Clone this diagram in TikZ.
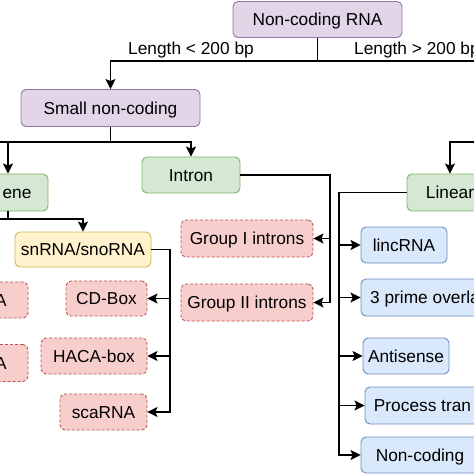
\documentclass[tikz,border=0pt]{standalone}
\usepackage{fontspec}
\setmainfont{Liberation Sans}
\usetikzlibrary{arrows.meta}
\definecolor{fillpurple}{HTML}{E1D5E7}
\definecolor{drawpurple}{HTML}{9673A6}
\definecolor{fillgreen}{HTML}{D5E8D4}
\definecolor{drawgreen}{HTML}{82B366}
\definecolor{fillyellow}{HTML}{FFF2CC}
\definecolor{drawyellow}{HTML}{D6B656}
\definecolor{fillred}{HTML}{F8CECC}
\definecolor{drawred}{HTML}{B85450}
\definecolor{fillblue}{HTML}{DAE8FC}
\definecolor{drawblue}{HTML}{6C8EBF}
\tikzset{
    rnabox/.style={draw, rounded corners=5pt, line width=0.9pt, inner sep=0pt,
        minimum height=36pt, text height=12.4pt, text depth=0pt,
        font=\fontsize{17.3}{20}\selectfont},
    purplebox/.style={rnabox, fill=fillpurple, draw=drawpurple},
    greenbox/.style={rnabox, fill=fillgreen, draw=drawgreen},
    yellowbox/.style={rnabox, fill=fillyellow, draw=drawyellow},
    redbox/.style={rnabox, fill=fillred, draw=drawred, dash pattern=on 3pt off 2pt},
    bluebox/.style={rnabox, fill=fillblue, draw=drawblue},
    lengthlabel/.style={inner sep=0pt, text height=12.4pt, text depth=0pt,
        font=\fontsize{17.3}{20}\selectfont},
    link/.style={black, line width=1.6pt},
    arrowlink/.style={link, -{Stealth[length=10pt, width=10pt, inset=2pt]}}
}

\begin{document}
\begin{tikzpicture}[x=1pt, y=-1pt]
    \useasboundingbox (0,0) rectangle (474,474);
    \clip (0,0) rectangle (474,474);
    % top level
    \node [purplebox, minimum width=169pt] (ncrna) at (317.5, 19.5) {Non-coding RNA};
    \node [lengthlabel] (shortlen) at (191, 48) {Length < 200 bp};
    \node [lengthlabel, anchor=west] (longlen) at (354, 48) {Length > 200 bp};
    \node [purplebox, minimum width=179pt, minimum height=37pt] (small) at (110.5, 108) {Small non-coding};
    % small non-coding branch
    \node [greenbox, minimum width=62pt, minimum height=37pt] (gene) at (17, 192.5) {ene};
    \node [greenbox, minimum width=98pt] (intron) at (191, 175) {Intron};
    \node [yellowbox, minimum width=136pt, minimum height=35pt] (sno) at (83, 249.5) {snRNA/snoRNA};
    \node [redbox, minimum width=54pt] (leftone) at (1, 300) {A};
    \node [redbox, minimum width=54pt, minimum height=37pt] (lefttwo) at (1, 363) {A};
    \node [redbox, minimum width=81pt, minimum height=35pt] (cdbox) at (106.5, 298.5) {CD-Box};
    \node [redbox, minimum width=106pt] (haca) at (94, 356) {HACA-box};
    \node [redbox, minimum width=87pt] (scarna) at (103.5, 412) {scaRNA};
    \node [redbox, minimum width=132pt, minimum height=37pt] (groupone) at (247, 238.5) {Group I introns};
    \node [redbox, minimum width=132pt, minimum height=37pt] (grouptwo) at (247, 302.5) {Group II introns};
    % long non-coding branch
    \node [greenbox, minimum width=86pt, minimum height=37pt] (linear) at (450, 192.5) {Linear};
    \node [bluebox, minimum width=86pt] (lincrna) at (404, 245) {lincRNA};
    \node [bluebox, minimum width=128pt, minimum height=37pt] (prime) at (425, 297.5) {3 prime overla};
    \node [bluebox, minimum width=86pt] (antisense) at (406, 356) {Antisense};
    \node [bluebox, minimum width=115pt, minimum height=37pt] (process) at (422.5, 405.5) {Process tran};
    \node [bluebox, minimum width=118pt] (noncoding) at (420, 455) {Non-coding};
    % junctions
    \coordinate (split) at (317.5, 61);
    \coordinate (longout) at (480, 61);
    \coordinate (smsplit) at (110.5, 142);
    \coordinate (smleft) at (-5, 142);
    \coordinate (genetop) at (8, 142);
    \coordinate (genesplit) at (8, 219);
    \coordinate (geneleft) at (-5, 219);
    \coordinate (snobus) at (170, 249.5);
    \coordinate (intronbus) at (330, 175);
    \coordinate (linearbus) at (339, 192.5);
    \coordinate (longin) at (480, 142);
    % connectors
    \draw [link] (ncrna.south) -- (split);
    \draw [link] (split) -- (longout);
    \draw [arrowlink] (split) -| (small.north);
    \draw [link] (small.south) -- (smsplit);
    \draw [link] (smsplit) -- (smleft);
    \draw [arrowlink] (smsplit) -| (intron.north);
    \draw [arrowlink] (genetop) -- (genetop |- gene.north);
    \draw [link] (genesplit |- gene.south) -- (genesplit);
    \draw [link] (genesplit) -- (geneleft);
    \draw [arrowlink] (genesplit) -| (sno.north);
    \draw [arrowlink] (sno.east) -- (snobus) |- (scarna.east);
    \draw [arrowlink] (snobus |- cdbox.east) -- (cdbox.east);
    \draw [arrowlink] (snobus |- haca.east) -- (haca.east);
    \draw [arrowlink] (intron.east) -- (intronbus) |- (grouptwo.east);
    \draw [arrowlink] (intronbus |- groupone.east) -- (groupone.east);
    \draw [arrowlink] (longin) -| (linear.north);
    \draw [arrowlink] (linear.west) -- (linearbus) |- (noncoding.west);
    \draw [arrowlink] (linearbus |- lincrna.west) -- (lincrna.west);
    \draw [arrowlink] (linearbus |- prime.west) -- (prime.west);
    \draw [arrowlink] (linearbus |- antisense.west) -- (antisense.west);
    \draw [arrowlink] (linearbus |- process.west) -- (process.west);
\end{tikzpicture}
\end{document}
